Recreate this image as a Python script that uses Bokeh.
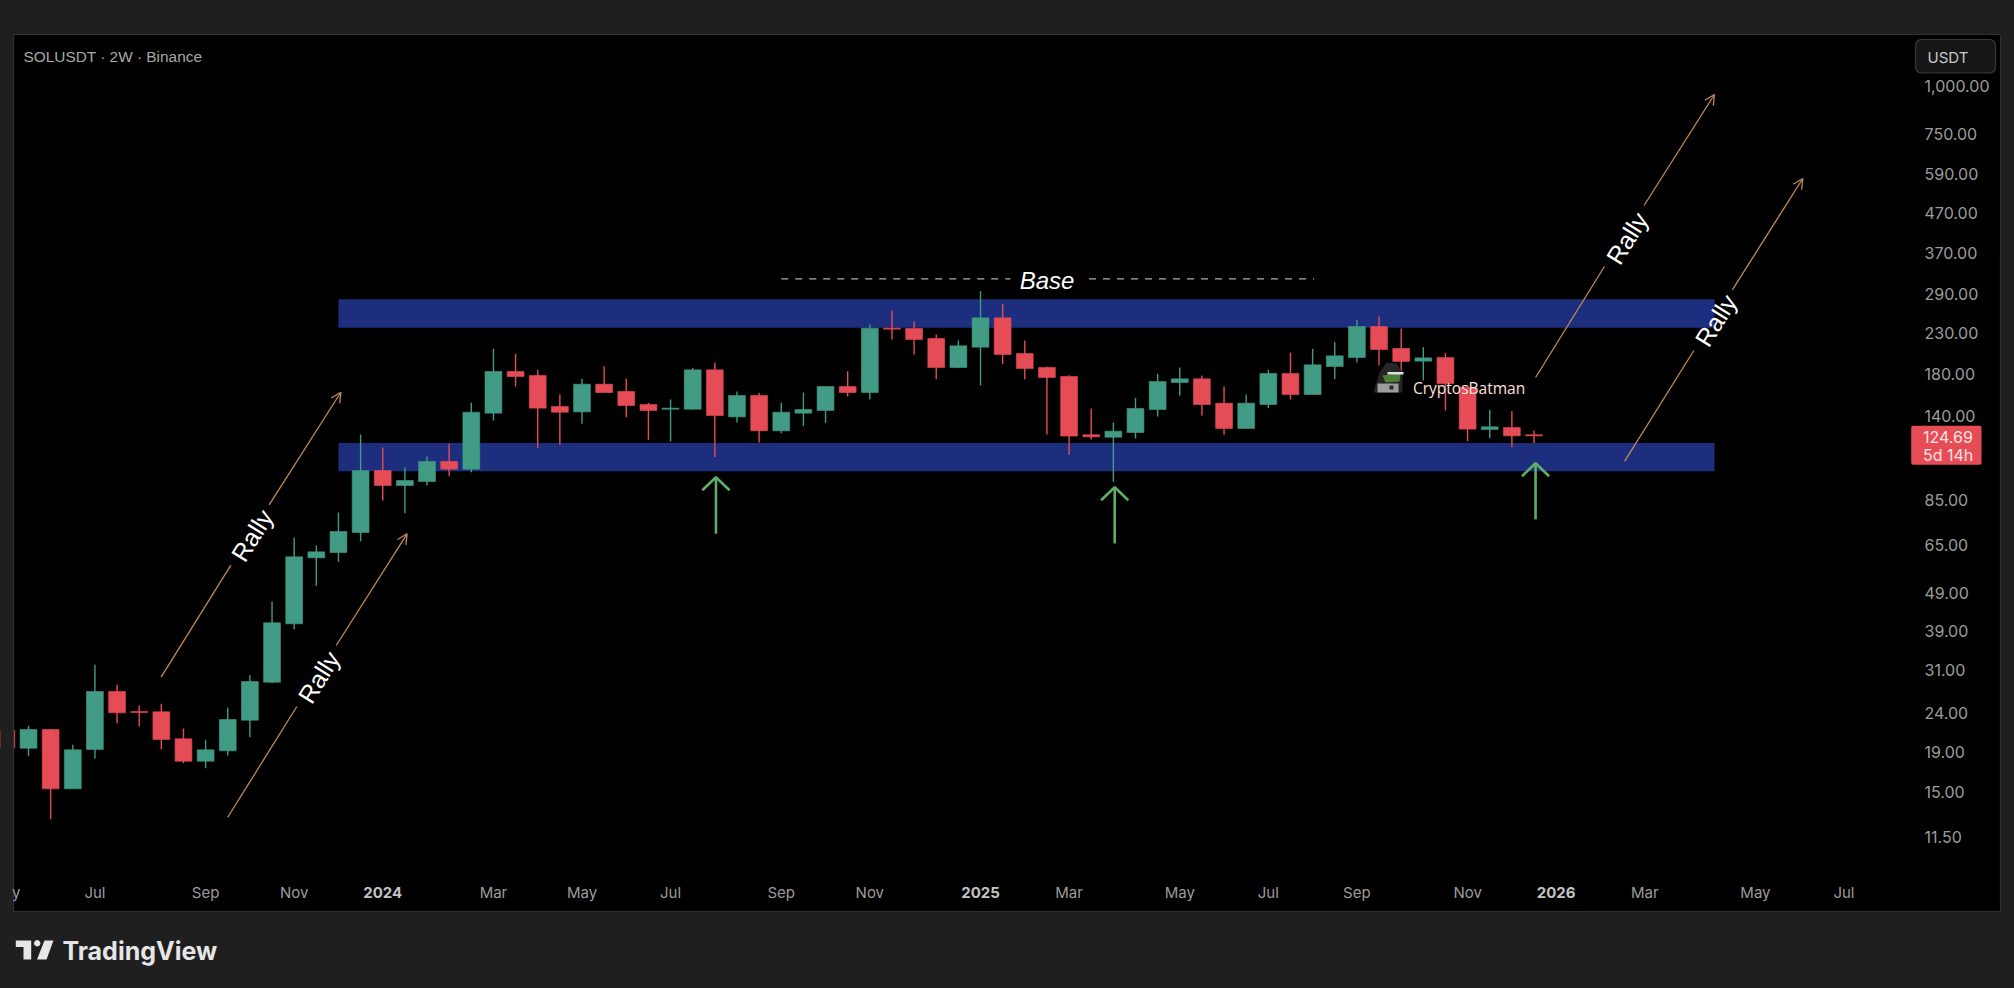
import math
from bokeh.plotting import figure
from bokeh.embed import file_html
from bokeh.resources import INLINE
from bokeh.core.properties import value
from bokeh.models import (ColumnDataSource, Arrow, OpenHead,
                          LinearAxis, LogAxis, FixedTicker, NumeralTickFormatter)

# ---------- data ----------
first_bar = -1
direction = list("R" "GRGGRRRRGGGGGGGG" "RGGRGGRRRGRRRGGRGRGGGRG"
                 "RRRGGRRRRRGGGGRRGGRGGGRR" "GRRGRR")
highs = [22.0,
    22.26,21.87,19.88,31.98,28.4,25.12,25.37,21.91,20.48,24.77,30.08,46.6,68.16,65.0,
    79.08,125.7,116.4,103.3,110.3,118.9,151.7,209.1,203.0,184.6,159.4,175.0,188.7,175.0,
    151.7,154.8,186.8,192.4,162.3,161.0,151.7,161.3,167.2,183.1,241.7,262.6,246.0,227.7,
    219.8,294.6,273.2,219.8,188.3,178.8,146.7,135.0,156.3,180.3,187.2,178.5,167.2,159.4,
    184.6,204.6,209.1,217.6,248.5,253.4,236.0,211.2,204.2,168.2,145.5,144.4,128.7]
body_tops = [21.66,
    21.78,21.78,19.3,27.3,27.3,24.24,24.19,20.61,19.3,23.11,28.97,41.05,60.77,62.6,
    70.64,101.5,101.5,95.64,107.1,107.1,143.5,182.8,182.8,178.5,148.5,169.5,169.5,162.3,
    150.2,147.0,184.6,184.6,158.5,158.5,143.5,145.8,167.2,167.2,236.5,236.5,236.0,222.4,
    212.9,251.4,251.4,203.4,187.2,177.4,125.5,128.2,146.7,172.2,175.0,175.0,151.4,151.4,
    180.6,180.6,190.2,200.6,238.8,238.8,209.6,198.2,198.6,166.5,131.6,131.0,125.5]
body_bottoms = [19.5,
    19.49,15.31,15.31,19.34,24.05,24.1,20.52,18.04,18.04,19.19,23.02,28.85,40.81,60.41,
    62.35,70.22,92.84,92.84,95.07,102.3,102.3,142.7,177.4,147.0,143.5,143.8,161.3,149.3,
    145.0,146.1,146.1,140.7,139.6,128.5,128.5,142.7,145.0,161.3,161.3,235.1,221.1,187.2,
    187.2,211.2,202.2,186.1,176.4,124.5,124.0,123.7,127.2,145.8,171.2,150.2,130.3,130.3,
    150.2,159.4,159.4,188.3,198.6,208.3,194.0,194.4,170.2,129.8,129.5,124.7,124.69]
lows = [19.2,
    18.59,12.78,15.31,18.33,22.62,22.17,19.34,17.83,17.31,18.63,20.81,28.68,39.54,51.15,
    58.99,66.56,84.92,78.77,92.84,98.14,100.5,136.6,167.2,115.9,118.2,133.9,161.3,139.3,
    121.8,120.6,146.1,109.9,135.0,119.9,126.7,132.1,134.7,157.6,154.8,221.1,202.2,174.6,
    186.4,168.2,191.3,174.6,125.7,111.4,122.0,94.89,122.8,139.9,158.2,140.7,125.5,130.3,
    147.0,154.8,159.4,174.6,192.8,189.4,168.2,173.3,145.0,120.8,123.0,116.6,119.4]

price_ticks = [1000, 750, 590, 470, 370, 290, 230, 180, 140, 85, 65, 49, 39, 31, 24, 19, 15, 11.5]
month_ticks = [-0.55, 3, 8, 12, 21, 25, 29, 34, 38, 47, 52, 56, 60, 65, 73, 78, 82]
month_labels = ["y", "Jul", "Sep", "Nov", "Mar", "May", "Jul", "Sep", "Nov", "Mar", "May", "Jul", "Sep", "Nov",
                "Mar", "May", "Jul"]
year_ticks = [16, 43, 69]
year_labels = ["2024", "2025", "2026"]

zones_top = [281.0, 119.6]
zones_bottom = [237.0, 101.0]
zones_x = (14.0, 76.15)

rally_text_x = [10.1, 13.11, 72.2, 76.21]
rally_text_y = [68.98, 29.72, 403.6, 247.5]
rally_tail_x0 = [5.99, 9.0, 68.07, 72.09]
rally_tail_y0 = [29.72, 12.93, 176.4, 107.1]
rally_tail_x1 = [9.14, 12.12, 71.18, 75.22]
rally_tail_y1 = [57.82, 24.97, 341.1, 207.1]
rally_head_x0 = [10.87, 13.9, 72.97, 76.96]
rally_head_y0 = [82.78, 35.88, 490.1, 297.0]
rally_head_x1 = [14.11, 17.1, 76.15, 80.14]
rally_head_y1 = [161.6, 69.68, 947.9, 575.4]

support_x = [31.05, 49.06, 68.07]
support_tip = [97.5, 91.9, 106.0]
support_tail = [69.7, 65.8, 75.9]

base_x = [[34.0, 44.35], [47.9, 58.07]]
base_y = 317.1

GREEN, RED = "#429c85", "#e64c55"
BLUE = "#1e2e7f"
ORANGE = "#c28a55"
ARROW_GREEN = "#5fae68"
GRAY = "#1f1f1f"
LABEL = "#9c9c9c"
LOGO = "#e6e6e6"

# ---------- page geometry: bar index <-> pixel, price <-> pixel ----------
PX_PER_BAR, PX_BAR0 = 22.14, 28.0
PX_PER_DECADE, PX_1000 = 387.5, 85.0
W, H = 2014, 988
def X(px): return (px - PX_BAR0) / PX_PER_BAR
def Y(px): return 1000 * 10 ** (-(px - PX_1000) / PX_PER_DECADE)

p = figure(width=W, height=H, frame_width=W, frame_height=H,
           x_range=(X(0), X(W)), y_range=(Y(H), Y(0)), y_axis_type="log",
           x_axis_location=None, y_axis_location=None,
           toolbar_location=None, output_backend="svg",
           background_fill_color=GRAY, border_fill_color=GRAY,
           min_border=0)
p.grid.visible = False
p.outline_line_color = None

# chart pane
p.quad(left=[X(13)], right=[X(2000)], top=[Y(34)], bottom=[Y(911)], fill_color="#000000", line_color="#303030", line_width=1.2)

# axes
def style(ax, size, color):
    ax.axis_line_color = None
    ax.major_tick_line_color = None
    ax.minor_tick_line_color = None
    ax.major_label_text_color = color
    ax.major_label_text_font = "Inter"
    ax.major_label_text_font_size = size

ya = LogAxis(ticker=FixedTicker(ticks=price_ticks), formatter=NumeralTickFormatter(format="0,0.00"),
             fixed_location=X(1915), major_label_standoff=3)
style(ya, "16px", LABEL)
p.add_layout(ya, "right")

xa = LinearAxis(ticker=FixedTicker(ticks=month_ticks),
                major_label_overrides=dict(zip(month_ticks, month_labels)),
                fixed_location=Y(873), major_label_standoff=3)
style(xa, "15px", LABEL)
p.add_layout(xa, "below")
xb = LinearAxis(ticker=FixedTicker(ticks=year_ticks),
                major_label_overrides=dict(zip(year_ticks, year_labels)),
                fixed_location=Y(877.5), major_label_standoff=3)
style(xb, "15px", "#c4c4c4")
xb.major_label_text_font_style = "bold"
p.add_layout(xb, "below")

# zones
p.quad(left=[zones_x[0]] * 2, right=[zones_x[1]] * 2, top=zones_top, bottom=zones_bottom,
       fill_color=BLUE, line_color=None)

# candles (clipped by the pane's left edge, as in the reference)
bars = list(range(first_bar, first_bar + len(highs)))
src = ColumnDataSource(dict(x=bars, high=highs, low=lows, top=body_tops, bottom=body_bottoms,
                            color=[GREEN if d == "G" else RED for d in direction]))
p.segment("x", "high", "x", "low", source=src, line_color="color", line_width=1.4)
p.vbar("x", top="top", bottom="bottom", width=0.76, source=src, fill_color="color", line_color="color", line_width=0.6)
p.quad(left=[X(0)], right=[X(13)], top=[Y(600)], bottom=[Y(800)], fill_color=GRAY, line_color=None)
p.segment([X(13)], [Y(600)], [X(13)], [Y(800)], line_color="#303030", line_width=1.2)

# rally arrows
p.segment(rally_tail_x0, rally_tail_y0, rally_tail_x1, rally_tail_y1, line_color=ORANGE, line_width=1.3)
for x0, y0, x1, y1 in zip(rally_head_x0, rally_head_y0, rally_head_x1, rally_head_y1):
    p.add_layout(Arrow(x_start=x0, y_start=y0, x_end=x1, y_end=y1, line_color=ORANGE, line_width=1.3,
                       end=OpenHead(size=10, line_color=ORANGE, line_width=1.3)))
p.text(rally_text_x, rally_text_y, text=["Rally"] * 4, angle=math.radians(58), text_color="#ffffff",
       text_font=value("Liberation Sans"), text_font_size="25px", text_align="center", text_baseline="middle")

# support arrows
shaft_xs = [[x, x] for x in support_x]
shaft_ys = [[a, b] for a, b in zip(support_tip, support_tail)]
WING_X, WING_Y = 13.6 / PX_PER_BAR, 10 ** (-13 / PX_PER_DECADE)
wing_xs = [[x - WING_X, x, x + WING_X] for x in support_x]
wing_ys = [[t * WING_Y, t, t * WING_Y] for t in support_tip]
p.multi_line(shaft_xs + wing_xs, shaft_ys + wing_ys, line_color=ARROW_GREEN, line_width=2.6)

# Base
for xs in base_x:
    p.line(xs, [base_y, base_y], line_color="#c9a884", line_width=1.2, line_dash="7 7")
p.text([X(1046.5)], [Y(280)], text=["Base"], text_color="#ffffff", text_font=value("Liberation Sans"),
       text_font_style="italic", text_font_size="24px", text_align="center", text_baseline="middle")

# author avatar + name
def rect(x0, x1, y0, y1, c, **kw):
    p.quad(left=[X(x0)], right=[X(x1)], top=[Y(y0)], bottom=[Y(y1)], fill_color=c, **{"line_color": None, **kw})
def poly(xs, ys, c):
    p.patch([X(a) for a in xs], [Y(b) for b in ys], fill_color=c, line_color=None)
poly((1373, 1379, 1386, 1396, 1402, 1402, 1373), (392, 372, 362, 363, 372, 392, 392), "#262527")
poly((1382, 1400, 1399, 1385), (375, 373, 381, 382), "#4b8238")
rect(1387, 1403, 371.5, 374, "#e0e0e0")
rect(1377, 1398, 383, 392, "#9d9d9d")
rect(1389, 1393, 385, 389, "#2a2a2a")
p.text([X(1412.5)], [Y(387)], text=["CryptosBatman"], text_color="#ffe0dc", text_font=value("Open Sans"),
       text_font_size="15.5px", text_baseline="middle")

# titles and chrome inside the chart
p.text([X(23)], [Y(56)], text=["SOLUSDT · 2W · Binance"], text_color="#a8a8a8",
       text_font=value("Liberation Sans"), text_font_size="15.4px", text_baseline="middle")
rect(1915, 1995, 39, 72.5, "#161616", line_color="#383838", line_width=1.2, border_radius=6)
p.text([X(1927)], [Y(56.5)], text=["USDT"], text_color="#c8c8c8", text_font=value("Inter"),
       text_font_size="15px", text_baseline="middle")
rect(1910.7, 1981, 425.3, 464.3, RED, border_radius=2)
p.text([X(1922.5), X(1922.5)], [Y(436.5), Y(454.5)], text=["124.69", "5d 14h"], text_color="#fbe4e4",
       text_font=value("Inter"), text_font_size="16px", text_baseline="middle")

# TradingView mark in the bottom strip
rect(15.3, 30.7, 940, 946.5, LOGO)
rect(23, 30.7, 946, 959, LOGO)
poly([44, 53, 46, 36.5], [940, 940, 959, 959], LOGO)
poly([36.7 + 3.2 * math.cos(k * math.pi / 6) for k in range(12)],
     [942.8 + 3.2 * math.sin(k * math.pi / 6) for k in range(12)], LOGO)
p.text([X(62)], [Y(950)], text=["TradingView"], text_color=LOGO, text_font=value("Inter"), text_font_style="bold",
       text_font_size="25px", text_baseline="middle")

html = file_html(p, INLINE).replace("<head>", "<head><style>html,body{background:%s;overflow:hidden}</style>" % GRAY, 1)
open("out.html", "w").write(html)
